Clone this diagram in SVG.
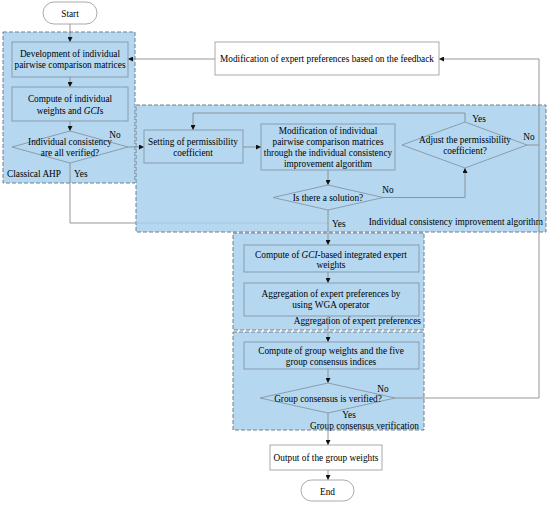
<svg xmlns="http://www.w3.org/2000/svg" width="550" height="505" viewBox="0 0 550 505">
<defs>
<marker id="arr" viewBox="0 0 10 10" refX="10" refY="5" markerWidth="5" markerHeight="5" orient="auto" markerUnits="userSpaceOnUse">
<path d="M0,0 L10,5 L0,10 z" fill="#111"/>
</marker>
</defs>
<style>
text{font-family:"Liberation Serif","Times New Roman",serif;font-size:9.3px;fill:#000}
.c{text-anchor:middle}
.r{text-anchor:end}
.grp{fill:#b5d8f0;stroke:#6f7f8f;stroke-width:1;stroke-dasharray:4,2}
.box{fill:#b5d8f0;stroke:#8595a5;stroke-width:0.9}
.wbox{fill:#fff;stroke:#a0a0a0;stroke-width:0.9}
.ln{fill:none;stroke:#8a8a8a;stroke-width:0.9}
.lnf{fill:none;stroke:#a9c3d6;stroke-width:0.9}
.a{marker-end:url(#arr)}
</style>
<rect width="550" height="505" fill="#fff"/>

<g id="classical-ahp"><rect class="grp" x="3" y="32" width="132" height="151"/><text x="7" y="177">Classical AHP</text></g>
<g id="icia"><rect class="grp" x="136" y="105" width="410" height="127"/><text class="r" x="543" y="225">Individual consistency improvement algorithm</text></g>
<g id="aggregation"><rect class="grp" x="233" y="233" width="191" height="97"/><text class="r" x="421" y="324">Aggregation of expert preferences</text></g>
<g id="group-consensus"><rect class="grp" x="233" y="332" width="191" height="98"/><text class="r" x="419" y="428.5">Group consensus verification</text></g>

<g id="connectors">
<path class="ln a" d="M70,24 V42"/>
<path class="ln a" d="M70,77 V87"/>
<path class="ln a" d="M70,121 V131"/>
<path class="ln a" d="M128,147 H144"/>
<path class="ln" d="M70,163 V223 H136"/>
<path class="lnf" d="M136,223 H328"/>
<path class="ln a" d="M243,147 H261"/>
<path class="ln a" d="M328,170 V185"/>
<path class="ln a" d="M383,197.5 H465 V168"/>
<path class="ln a" d="M465,122 V113 H193 V130"/>
<path class="ln" d="M527,145 H539"/>
<path class="ln a" d="M328,210 V245"/>
<path class="ln a" d="M539,398 V59 H439"/>
<path class="ln a" d="M215,59 H128"/>
<path class="ln a" d="M328,272 V283"/>
<path class="ln a" d="M328,316 V342"/>
<path class="ln a" d="M328,369 V383"/>
<path class="ln" d="M395,398 H539"/>
<path class="ln a" d="M328,413 V445"/>
<path class="ln a" d="M328,470 V480"/>
</g>

<g id="start"><rect class="wbox" x="43" y="2" width="54" height="22" rx="11"/><text class="c" x="70" y="16.5">Start</text></g>
<g id="development"><rect class="box" x="12" y="42" width="116" height="35"/><text class="c" x="70" y="56.5">Development of individual</text><text class="c" x="70" y="67.5">pairwise comparison matrices</text></g>
<g id="compute-gci"><rect class="box" x="12" y="87" width="116" height="34"/><text class="c" x="70" y="102">Compute of individual</text><text class="c" x="70" y="113.5">weights and <tspan font-style="italic">GCI</tspan>s</text></g>
<g id="individual-verified"><path class="box" d="M70,131 L128,147 L70,163 L12,147 Z"/><text class="c" x="70" y="145">Individual consistency</text><text class="c" x="70" y="156">are all verified?</text><text class="c" x="115" y="138">No</text><text x="74" y="177">Yes</text></g>
<g id="feedback"><rect class="wbox" x="215" y="42" width="224" height="33"/><text class="c" x="327" y="62">Modification of expert preferences based on the feedback</text></g>
<g id="setting"><rect class="box" x="144" y="130" width="99" height="33"/><text class="c" x="193" y="145">Setting of permissibility</text><text class="c" x="193" y="155.5">coefficient</text></g>
<g id="modification"><rect class="box" x="261" y="124" width="134" height="46"/><text class="c" x="328" y="134">Modification of individual</text><text class="c" x="328" y="145">pairwise comparison matrices</text><text class="c" x="328" y="155.5">through the individual consistency</text><text class="c" x="328" y="166.5">improvement algorithm</text></g>
<g id="solution"><path class="box" d="M328,185 L383,197.5 L328,210 L273,197.5 Z"/><text class="c" x="328" y="200.5">Is there a solution?</text><text class="c" x="388" y="193">No</text><text x="332" y="227">Yes</text></g>
<g id="adjust"><path class="box" d="M465,122 L527,145 L465,168 L402,145 Z"/><text class="c" x="465" y="142.5">Adjust the permissibility</text><text class="c" x="465" y="153.5">coefficient?</text><text class="c" x="479" y="122">Yes</text><text class="c" x="529" y="140">No</text></g>
<g id="gci-weights"><rect class="box" x="244" y="245" width="175" height="27"/><text class="c" x="331" y="257.5">Compute of <tspan font-style="italic">GCI</tspan>-based integrated expert</text><text class="c" x="331" y="268">weights</text></g>
<g id="aggregate"><rect class="box" x="244" y="283" width="175" height="33"/><text class="c" x="331" y="297">Aggregation of expert preferences by</text><text class="c" x="331" y="308">using WGA operator</text></g>
<g id="group-weights"><rect class="box" x="244" y="342" width="175" height="27"/><text class="c" x="331" y="353.5">Compute of group weights and the five</text><text class="c" x="331" y="365">group consensus indices</text></g>
<g id="consensus"><path class="box" d="M328,383 L395,398 L328,413 L260,398 Z"/><text class="c" x="328" y="401.5">Group consensus is verified?</text><text class="c" x="383" y="392">No</text><text class="c" x="349" y="418">Yes</text></g>
<g id="output"><rect class="wbox" x="270" y="445" width="112" height="25"/><text class="c" x="326" y="460.5">Output of the group weights</text></g>
<g id="end"><rect class="wbox" x="301" y="480" width="53" height="21" rx="10.5"/><text class="c" x="327.5" y="494.5">End</text></g>
</svg>
